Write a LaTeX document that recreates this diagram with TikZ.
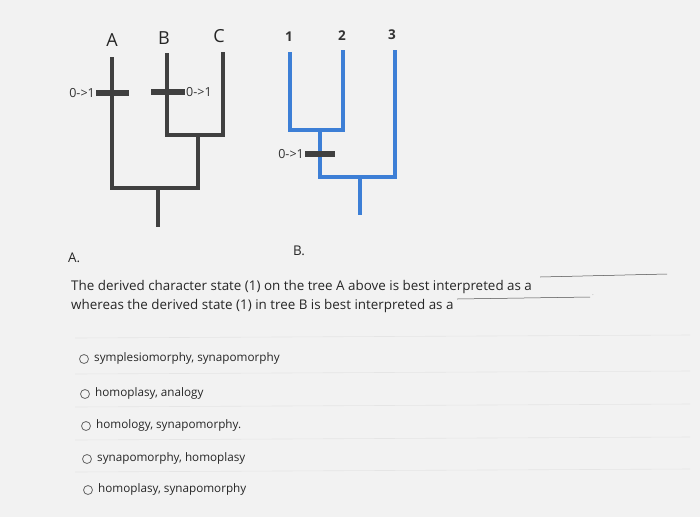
\documentclass[tikz,border=0pt]{standalone}
\usepackage{fontspec}
\setmainfont{Open Sans}
\definecolor{tb}{HTML}{3D7FD6}
\begin{document}
\begin{tikzpicture}[x=1pt,y=-1pt,
  tr/.style={line width=3.5pt,draw=black!75},
  trb/.style={line width=3.5pt,draw=tb},
  bar/.style={line width=5.5pt,draw=black!75},
  lbl/.style={font=\fontsize{12.5}{14}\selectfont,text=black!80,inner sep=1pt},
  tip/.style={font=\fontsize{18}{20}\selectfont,text=black!85},
  tipb/.style={font=\bfseries\fontsize{13.5}{16}\selectfont,text=black!80},
  txt/.style={font=\fontsize{13.4}{16}\selectfont,text=black!85,anchor=west,inner sep=0pt},
  opt/.style={font=\fontsize{11.7}{14}\selectfont,text=black!85,anchor=west,inner sep=0pt},
  rad/.style={circle,draw=black!60,line width=0.8pt,minimum size=9pt,inner sep=0pt}]
\fill[black!5] (0,0) rectangle (700,517);
\useasboundingbox (0,0) rectangle (700,517);
% tree A
\coordinate (a1) at (112,57); \coordinate (a2) at (112,188);
\coordinate (b1) at (167,53); \coordinate (b2) at (167,135);
\coordinate (c1) at (223,52); \coordinate (c2) at (223,135);
\coordinate (bc) at (198,135); \coordinate (bc2) at (198,188);
\coordinate (r1) at (158,188); \coordinate (r2) at (158,227);
\draw[tr] (a1) -- (a2) -- (bc2) -- (bc);
\draw[tr] (b1) -- (b2) -- (c2) -- (c1);
\draw[tr] (r1) -- (r2);
\coordinate (ba1) at (96,93); \coordinate (ba2) at (129,93);
\coordinate (bb1) at (151,92); \coordinate (bb2) at (185,92);
\draw[bar] (ba1) -- (ba2);
\draw[bar] (bb1) -- (bb2);
\node[lbl,anchor=east] (la) at (ba1) {0->1};
\node[lbl,anchor=west] (lb) at (bb2) {0->1};
\node[tip] (A) at (112,40) {A};
\node[tip] (B) at (164,38) {B};
\node[tip] (C) at (219,36) {C};
% tree B
\coordinate (n1) at (290,52); \coordinate (n1b) at (290,130);
\coordinate (n2) at (343,50); \coordinate (n2b) at (343,130);
\coordinate (n12) at (320,130); \coordinate (n12b) at (320,177);
\coordinate (n3) at (395,50); \coordinate (n3b) at (395,177);
\coordinate (m1) at (360,177); \coordinate (m2) at (360,215);
\draw[trb] (n1) -- (n1b) -- (n2b) -- (n2);
\draw[trb] (n12) -- (n12b) -- (n3b) -- (n3);
\draw[trb] (m1) -- (m2);
\coordinate (bx1) at (305,154); \coordinate (bx2) at (335,154);
\draw[bar] (bx1) -- (bx2);
\node[lbl,anchor=east] (lx) at (bx1) {0->1};
\node[tipb] (t1) at (289,37) {1};
\node[tipb] (t2) at (342,36) {2};
\node[tipb] (t3) at (392,35) {3};
% texts
\node[txt] (An) at (68,258) {A.};
\node[txt] (Bn) at (293,251) {B.};
\node[txt] (s1) at (71,287) {The derived character state (1) on the tree A above is best interpreted as a};
\node[txt] (s2) at (71,306) {whereas the derived state (1) in tree B is best interpreted as a};
\coordinate (u1) at (540,277); \coordinate (u2) at (667,274);
\coordinate (v1) at (457,299); \coordinate (v2) at (590,297);
\draw[black!70,line width=0.5pt] (u1) -- (u2);
\draw[black!70,line width=0.5pt] (v1) -- (v2);
\node[font=\tiny,text=black!60,inner sep=0pt] (dot) at (593,295) {.};
\foreach \y/\t/\xx [count=\i] in {358/{symplesiomorphy, synapomorphy}/84, 393/{homoplasy, analogy}/85, 425/{homology, synapomorphy.}/86, 458/{synapomorphy, homoplasy}/87, 489/{homoplasy, synapomorphy}/88}{
  \node[rad] (r\i) at (\xx,\y+1) {};
  \node[opt] (o\i) at (\xx+10,\y) {\t};
}
\foreach \y in {338,374,407,440,472}{\draw[black!10,line width=0.6pt] (75,\y) -- (690,\y-3);}
\end{tikzpicture}
\end{document}
